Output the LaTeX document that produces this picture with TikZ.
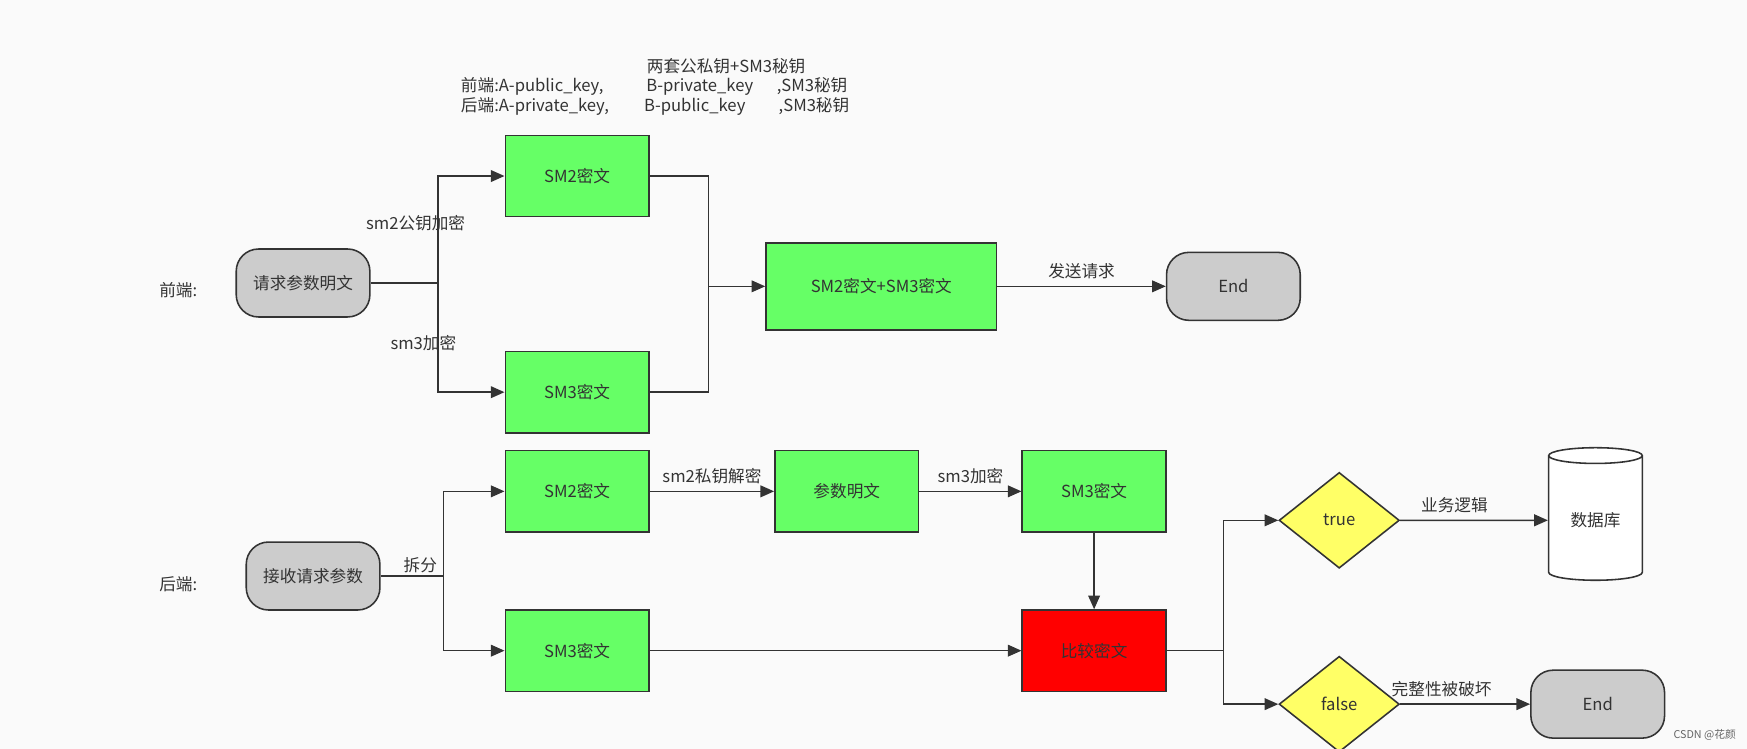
\documentclass[tikz,border=0pt]{standalone}
\usepackage{fontspec}
\setmainfont{Noto Sans CJK SC}
\usetikzlibrary{shapes.geometric,arrows.meta,positioning,calc}
\definecolor{boxgreen}{HTML}{66FF66}
\definecolor{termgray}{HTML}{CCCCCC}
\definecolor{diayellow}{HTML}{FFFF66}
\definecolor{linegray}{HTML}{333333}

\begin{document}
\begin{tikzpicture}[
    x=0.02cm, y=-0.02cm,
    font=\fontsize{8.5}{10}\selectfont,
    box/.style={draw=linegray, thick, fill=boxgreen, minimum width=2.58cm, minimum height=1.46cm, text=black!80},
    term/.style={draw=linegray, thick, fill=termgray, rounded corners=0.4cm, minimum width=2.4cm, minimum height=1.22cm, text=black!80},
    choice/.style={diamond, draw=linegray, thick, fill=diayellow, minimum width=2.16cm, minimum height=1.72cm, inner sep=0pt, text=black!80},
    flow/.style={-{Triangle[length=7pt,width=6pt]}, thick, draw=linegray},
    link/.style={thick, draw=linegray},
    lbl/.style={text=black!80},
    ]

\fill[black!2] (0,0) rectangle (1568,672);
\useasboundingbox (0,0) rectangle (1568,672);

% header text
\node[lbl, align=left] at (588,78) {\hspace*{95pt}两套公私钥+SM3秘钥\\
    前端:A-public\_key,\hspace{22pt}B-private\_key\hspace{12pt},SM3秘钥\\
    后端:A-private\_key,\hspace{18pt}B-public\_key\hspace{17pt},SM3秘钥};

% front end
\node[lbl] at (160,260) (fe) {前端:};
\node[term] at (272,254) (req) {请求参数明文};
\node[box] at (518,158) (sm2a) {SM2密文};
\node[box] at (518,352) (sm3a) {SM3密文};
\node[box, minimum width=4.14cm, minimum height=1.56cm] at (791,257) (both) {SM2密文+SM3密文};
\node[term] at (1107,257) (end1) {End};

\coordinate (splita) at (393,254);
\coordinate (joina) at (636,257);
\draw[link] (req) -- (splita);
\draw[flow] (splita) |- (sm2a);
\draw[flow] (splita) |- (sm3a);
\node[lbl] at (373,200) {sm2公钥加密};
\node[lbl] at (380,308) {sm3加密};
\draw[link] (sm2a.east) -| (joina);
\draw[link] (sm3a.east) -| (joina);
\draw[flow] (joina) -- (both);
\draw[flow] (both) -- (end1) node[midway, above, lbl] {发送请求};

% back end
\node[lbl] at (160,524) (be) {后端:};
\node[term] at (281,517) (recv) {接收请求参数};
\node[box] at (518,441) (sm2b) {SM2密文};
\node[box] at (518,584) (sm3b) {SM3密文};
\node[box] at (760,441) (plain) {参数明文};
\node[box] at (982,441) (sm3c) {SM3密文};
\node[box, fill=red] at (982,584) (cmp) {比较密文};
\node[choice] at (1202,467) (yes) {true};
\node[choice] at (1202,632) (no) {false};
\node[cylinder, shape border rotate=90, aspect=0.25, draw=linegray, thick, fill=white,
    minimum width=1.68cm, minimum height=2.38cm, text=black!80] at (1432,467) (db) {数据库};
\node[term] at (1434,632) (end2) {End};

\coordinate (splitb) at (398,517);
\coordinate (fork) at (1098,584);
\draw[link] (recv) -- (splitb) node[midway, above right=-2pt and -8pt, lbl] {拆分};
\draw[flow] (splitb) |- (sm2b);
\draw[flow] (splitb) |- (sm3b);
\draw[flow] (sm2b) -- (plain) node[midway, above, lbl] {sm2私钥解密};
\draw[flow] (plain) -- (sm3c) node[midway, above, lbl] {sm3加密};
\draw[flow] (sm3c) -- (cmp);
\draw[flow] (sm3b) -- (cmp);
\draw[link] (cmp) -- (fork);
\draw[flow] (fork) |- (yes);
\draw[flow] (fork) |- (no);
\draw[flow] (yes) -- (db) node[midway, above, lbl, xshift=-10pt] {业务逻辑};
\draw[flow] (no) -- (end2) node[midway, above, lbl, xshift=-12pt] {完整性被破坏};

\node[text=black!60, font=\fontsize{5.5}{6}\selectfont] at (1530,660) {CSDN @花颜};

\end{tikzpicture}
\end{document}
